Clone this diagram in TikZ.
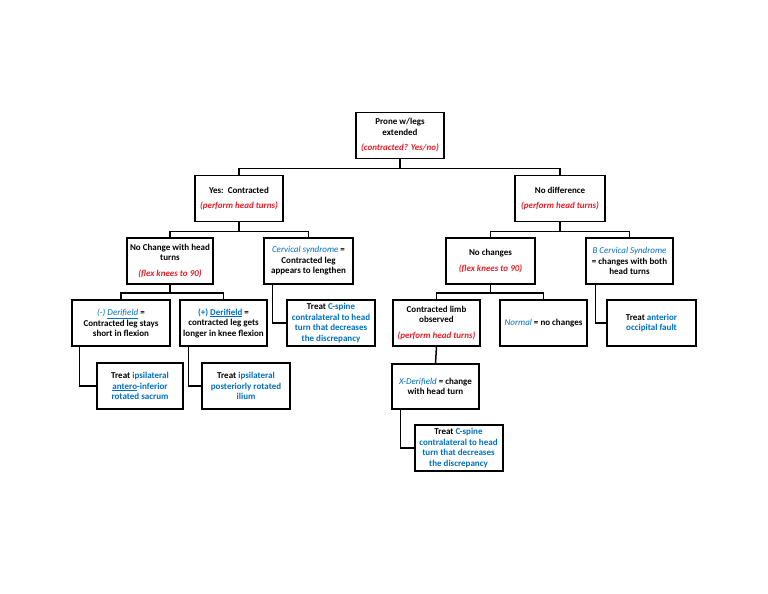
\documentclass[tikz,border=0pt]{standalone}
\usepackage{fontspec}
\setmainfont{Carlito}
\definecolor{cblue}{RGB}{0,112,192}
\definecolor{cred}{RGB}{232,30,40}
\newcommand{\Bl}[1]{{\color{cblue}#1}}
\newcommand{\Bi}[1]{{\color{cblue}\mdseries\itshape #1}}
\newcommand{\Rd}[1]{{\color{cred}\itshape #1}}
\begin{document}
\begin{tikzpicture}[x=1pt,y=-1pt,
  box/.style={draw=black,line width=1.5pt,fill=white,minimum width=88pt,minimum height=46pt,
    align=center,inner sep=1pt,font=\fontsize{9}{10.5}\selectfont\bfseries},
  tbox/.style={box,line width=2pt},
  conn/.style={line width=1.5pt}]
\useasboundingbox (0,0) rectangle (768,594);
\fill[white] (0,0) rectangle (768,594);
\node[box] (n1) at (400,135.5) {Prone w/legs\\extended\\[5pt]\Rd{(contracted? Yes/no)}};
\node[box] (n2) at (239,198.5) {Yes:\ \ Contracted\\[5pt]\Rd{(perform head turns)}};
\node[box,minimum width=90pt] (n3) at (560,198.5) {No difference\\[5pt]\Rd{(perform head turns)}};
\node[box,minimum width=86pt] (n4) at (170,261) {No Change with head\\turns\\[5pt]\Rd{(flex knees to 90)}};
\node[box,minimum width=89pt] (n5) at (308.5,261) {\Bi{Cervical syndrome} =\\Contracted leg\\appears to lengthen};
\node[box,minimum width=89pt] (n6) at (490.5,261) {No changes\\[5pt]\Rd{(flex knees to 90)}};
\node[box,minimum width=87pt] (n7) at (629.5,261) {\Bi{B Cervical Syndrome}\\= changes with both\\head turns};
\node[box,minimum width=98pt] (n8) at (121,323) {\Bi{(-) \underline{Derifield}} =\\Contracted leg stays\\short in flexion};
\node[box,minimum width=87pt] (n9) at (223.5,323) {\Bl{(+) \underline{Derifield}} =\\contracted leg gets\\longer in knee flexion};
\node[tbox] (n10) at (331,323) {Treat \Bl{C-spine}\\\Bl{contralateral to head}\\\Bl{turn that decreases}\\\Bl{the discrepancy}};
\node[box,minimum width=87pt] (n11) at (436.5,323) {Contracted limb\\observed\\[5pt]\Rd{(perform head turns)}};
\node[box,minimum width=87pt] (n12) at (543.5,323) {\Bi{Normal} = no changes};
\node[box,minimum width=89pt] (n13) at (651.5,323) {Treat \Bl{anterior}\\\Bl{occipital fault}};
\node[tbox,minimum width=86pt] (n14) at (140,386) {Treat \Bl{ipsilateral}\\\Bl{\underline{antero}-inferior}\\\Bl{rotated sacrum}};
\node[tbox] (n15) at (246,386) {Treat \Bl{ipsilateral}\\\Bl{posteriorly rotated}\\\Bl{ilium}};
\node[box,minimum width=87pt,minimum height=45pt] (n16) at (435.5,386.5) {\Bi{X-Derifield} = change\\with head turn};
\node[tbox] (n17) at (458.5,448) {Treat \Bl{C-spine}\\\Bl{contralateral to head}\\\Bl{turn that decreases}\\\Bl{the discrepancy}};
\draw[conn] (n1.south) -- ++(0,9) -| (n2.north);
\draw[conn] (n1.south) -- ++(0,9) -| (n3.north);
\draw[conn] (n2.south) -- ++(0,9) -| (n4.north);
\draw[conn] (n2.south) -- ++(0,9) -| (n5.north);
\draw[conn] (n3.south) -- ++(0,9) -| (n6.north);
\draw[conn] (n3.south) -- ++(0,9) -| (n7.north);
\draw[conn] (n4.south) -- ++(0,8) -| (n8.north);
\draw[conn] (n4.south) -- ++(0,8) -| (n9.north);
\draw[conn] (n6.south) -- ++(0,8) -| (n11.north);
\draw[conn] (n6.south) -- ++(0,8) -| (n12.north);
\draw[conn] ([xshift=9pt]n5.south west) |- (n10.west);
\draw[conn] ([xshift=10pt]n7.south west) |- (n13.west);
\draw[conn] ([xshift=8pt]n8.south west) |- (n14.west);
\draw[conn] ([xshift=9pt]n9.south west) |- (n15.west);
\draw[conn] (n11.south) -- (n16.north);
\draw[conn] ([xshift=9pt]n16.south west) |- (n17.west);
\end{tikzpicture}
\end{document}
